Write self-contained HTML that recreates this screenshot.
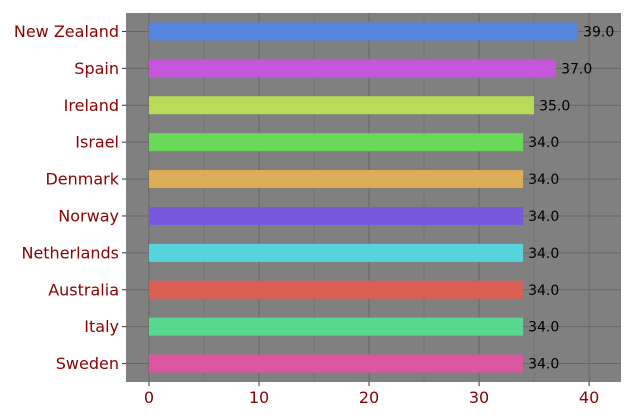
<!DOCTYPE html>
<html><head><meta charset="utf-8"><style>
body{margin:0;background:#fff;font-family:"Liberation Sans","DejaVu Sans",sans-serif}
</style></head><body>
<svg id="chart" width="635" height="414" xmlns="http://www.w3.org/2000/svg" font-family="DejaVu Sans, Liberation Sans, sans-serif"></svg>
<script>
const categories=["New Zealand","Spain","Ireland","Israel","Denmark","Norway","Netherlands","Australia","Italy","Sweden"];
const values=[39,37,35,34,34,34,34,34,34,34];
const colors=["#5585dc","#c557db","#b8dc58","#67d956","#dcac56","#7757db","#56d4dc","#dc5f56","#56d98f","#dc579f"];
const xTicks=[0,10,20,30,40];
const minorTicks=[5,15,25,35];
const L=126,R=621,T=13,B=382;
const xmin=-2.09,xmax=42.9;
const X=v=>L+(v-xmin)/(xmax-xmin)*(R-L);
const step=(B-T)/categories.length;
const Y=i=>T+step*(i+0.5);
const svg=document.getElementById('chart');
const NS='http://www.w3.org/2000/svg';
function mk(t,a){const e=document.createElementNS(NS,t);for(const k in a)e.setAttribute(k,a[k]);svg.appendChild(e);return e;}
let bg=mk('rect',{x:L,y:T,width:R-L,height:B-T,fill:'#808080'});


minorTicks.forEach(v=>{let g=mk('line',{x1:X(v),x2:X(v),y1:T,y2:B,stroke:'#747474','stroke-width':1});

});
xTicks.forEach(v=>{let g=mk('line',{x1:X(v),x2:X(v),y1:T,y2:B,stroke:'#666','stroke-width':1});


let tk=mk('line',{x1:X(v),x2:X(v),y1:B,y2:B+4,stroke:'#333'});


let t=mk('text',{x:X(v),y:B+21,'text-anchor':'middle','font-size':16,fill:'#8b0000'});t.textContent=v;

});
categories.forEach((c,i)=>{const y=Y(i);
let g=mk('line',{x1:L,x2:R,y1:y,y2:y,stroke:'#666','stroke-width':1});


let tk=mk('line',{x1:L-4,x2:L,y1:y,y2:y,stroke:'#333'});


let b=mk('rect',{x:X(0),y:y-9,width:X(values[i])-X(0),height:18,fill:colors[i]});


let l=mk('text',{x:L-7,y:y+5.5,'text-anchor':'end','font-size':16,fill:'#8b0000'});l.textContent=c;


let v=mk('text',{x:X(values[i])+5,y:y+5,'font-size':14,fill:'#000'});v.textContent=values[i].toFixed(1);

});
</script>
</body></html>
